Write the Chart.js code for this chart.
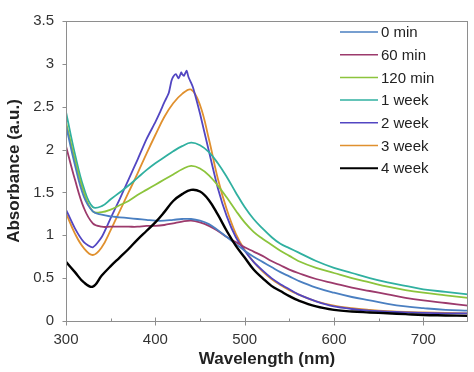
<!DOCTYPE html>
<html>
<head>
<meta charset="utf-8">
<script src="https://cdn.jsdelivr.net/npm/chart.js@4.4.0/dist/chart.umd.min.js"></script>
<style>
html, body { margin: 0; padding: 0; background: #fff; }
</style>
</head>
<body>
<canvas id="uvChart" width="474" height="372"></canvas>
<script>
// wavelength grid (nm) shared by all curves
var wavelength = [300,310,320,330,340,350,360,370,380,390,400,410,420,430,440,450,460,470,480,490,500,510,520,530,540,550,560,580,600,620,640,660,680,700,725,750];

var seriesNames = ['0 min', '60 min', '120 min', '1 week', '2 week', '3 week', '4 week'];
var seriesColors = ['#4a7fc1', '#9c3a6c', '#8cc43c', '#30b0a0', '#5246c2', '#e0902e', '#000000'];

var abs0min   = [2.28,1.82,1.45,1.28,1.24,1.22,1.21,1.20,1.19,1.18,1.17,1.17,1.18,1.19,1.19,1.17,1.13,1.06,0.98,0.90,0.82,0.75,0.69,0.63,0.57,0.52,0.47,0.39,0.33,0.28,0.24,0.20,0.17,0.15,0.13,0.12];
var abs60min  = [2.04,1.65,1.32,1.14,1.10,1.10,1.10,1.10,1.10,1.11,1.11,1.12,1.14,1.16,1.17,1.15,1.11,1.05,0.98,0.92,0.86,0.81,0.76,0.70,0.65,0.60,0.56,0.49,0.44,0.39,0.35,0.31,0.27,0.24,0.21,0.18];
var abs120min = [2.32,1.88,1.50,1.28,1.27,1.30,1.35,1.40,1.47,1.53,1.59,1.65,1.71,1.77,1.81,1.78,1.70,1.58,1.44,1.29,1.15,1.04,0.96,0.89,0.82,0.76,0.70,0.62,0.56,0.50,0.45,0.40,0.36,0.33,0.30,0.27];
var abs1week  = [2.44,1.95,1.55,1.33,1.34,1.42,1.50,1.58,1.67,1.76,1.84,1.91,1.98,2.04,2.08,2.05,1.97,1.84,1.68,1.50,1.33,1.19,1.08,0.98,0.90,0.85,0.80,0.70,0.62,0.56,0.50,0.45,0.41,0.37,0.34,0.31];
var abs2week  = [1.30,1.08,0.92,0.86,0.98,1.20,1.42,1.65,1.88,2.12,2.32,2.55,2.85,2.88,2.78,2.42,1.98,1.55,1.22,0.98,0.82,0.69,0.59,0.50,0.43,0.37,0.31,0.23,0.17,0.14,0.12,0.11,0.10,0.095,0.09,0.09];
var abs3week  = [1.26,1.02,0.85,0.77,0.86,1.06,1.28,1.50,1.72,1.95,2.17,2.38,2.54,2.65,2.70,2.52,2.12,1.66,1.30,1.02,0.83,0.69,0.58,0.49,0.42,0.36,0.31,0.23,0.18,0.15,0.13,0.115,0.105,0.10,0.095,0.09];
var abs4week  = [0.69,0.57,0.45,0.40,0.53,0.64,0.74,0.84,0.95,1.05,1.15,1.27,1.40,1.48,1.53,1.51,1.41,1.24,1.05,0.88,0.74,0.60,0.50,0.41,0.35,0.29,0.24,0.17,0.13,0.11,0.10,0.09,0.08,0.07,0.065,0.06];

// extra readings on the noisy 2 week peak
var peak2weekNm  = [405,415,418,423,426,429,432,435,437,442,445];
var peak2weekAbs = [2.43,2.66,2.80,2.88,2.83,2.90,2.86,2.92,2.85,2.73,2.62];

var xTickLabels = [300,400,500,600,700];
var xMinorTicks = [350,450,550,650];
var yTickStep = 0.5;

function toPoints(xs, ys) {
    var pts = [];
    for (var i = 0; i < xs.length; i++) {
        pts.push({x: xs[i], y: ys[i]});
    }
    return pts;
}

var allSeries = [abs0min, abs60min, abs120min, abs1week, abs2week, abs3week, abs4week];

var datasets = allSeries.map(function(vals, i) {
    var pts = toPoints(wavelength, vals);
    var isNoisy = seriesNames[i] === '2 week';
    if (isNoisy) {
        pts = pts.concat(toPoints(peak2weekNm, peak2weekAbs));
        pts.sort(function(a, b) { return a.x - b.x; });
    }
    return {
        label: seriesNames[i],
        data: pts,
        borderColor: seriesColors[i],
        borderWidth: i === 6 ? 2.4 : 1.8,
        pointRadius: 0,
        fill: false,
        tension: isNoisy ? 0.2 : 0.4,
        order: i === 6 ? 0 : 1
    };
});

var fontFam = '"Liberation Sans", Arial, sans-serif';

// legend drawn inside the plot area, top right
var legendInside = {
    id: 'legendInside',
    afterDatasetsDraw: function(chart) {
        var ctx = chart.ctx;
        ctx.save();
        ctx.font = '15px ' + fontFam;
        ctx.textBaseline = 'middle';
        ctx.textAlign = 'left';
        chart.data.datasets.forEach(function(ds, i) {
            var y = 32 + i * 22.7;
            ctx.strokeStyle = ds.borderColor;
            ctx.lineWidth = i === 6 ? 2 : 1.5;
            ctx.beginPath();
            ctx.moveTo(340, y);
            ctx.lineTo(378, y);
            ctx.stroke();
            ctx.fillStyle = '#222';
            ctx.fillText(ds.label, 381, y + 1);
        });
        ctx.restore();
    }
};

// frame round plot area + tick marks
var frameTicks = {
    id: 'frameTicks',
    afterDraw: function(chart) {
        var ctx = chart.ctx, a = chart.chartArea;
        var xs = chart.scales.x, ys = chart.scales.y;
        ctx.save();
        ctx.strokeStyle = '#8e8e8e';
        ctx.lineWidth = 1;
        var l = Math.round(a.left) + 0.5, r = Math.round(a.right) - 0.5;
        var t = Math.round(a.top) + 0.5, b = Math.round(a.bottom) + 0.5;
        ctx.strokeRect(l, t, r - l, b - t);
        ctx.beginPath();
        xTickLabels.forEach(function(v) {
            var px = Math.round(xs.getPixelForValue(v)) + 0.5;
            ctx.moveTo(px, b - 4);
            ctx.lineTo(px, b + 4);
        });
        xMinorTicks.forEach(function(v) {
            var px = Math.round(xs.getPixelForValue(v)) + 0.5;
            ctx.moveTo(px, b - 3);
            ctx.lineTo(px, b);
        });
        ys.ticks.forEach(function(tk) {
            var py = Math.round(ys.getPixelForValue(tk.value)) + 0.5;
            ctx.moveTo(l - 4, py);
            ctx.lineTo(l, py);
        });
        ctx.stroke();
        ctx.restore();
    }
};

var uvChart = new Chart(document.getElementById('uvChart'), {
    type: 'line',
    data: { datasets: datasets },
    options: {
        responsive: false,
        animation: false,
        devicePixelRatio: 1,
        layout: { padding: { top: 8, right: 6, left: 0, bottom: 0 } },
        plugins: {
            legend: { display: false },
            tooltip: { enabled: false }
        },
        scales: {
            x: {
                type: 'linear',
                min: 300,
                max: 750,
                afterBuildTicks: function(scale) {
                    scale.ticks = xTickLabels.map(function(v) { return {value: v}; });
                },
                afterFit: function(scale) { scale.height = 51; },
                grid: { display: false, drawTicks: false },
                border: { display: false },
                ticks: {
                    padding: 10,
                    maxRotation: 0,
                    color: '#333',
                    font: { family: fontFam, size: 15 }
                },
                title: {
                    display: true,
                    text: 'Wavelength (nm)',
                    color: '#222',
                    padding: { top: 0, bottom: 2 },
                    font: { family: fontFam, size: 17, weight: 'bold' }
                }
            },
            y: {
                min: 0,
                max: 3.5,
                afterFit: function(scale) { scale.width = 66; },
                grid: { display: false, drawTicks: false },
                border: { display: false },
                ticks: {
                    stepSize: yTickStep,
                    padding: 12,
                    color: '#333',
                    font: { family: fontFam, size: 15 },
                    callback: function(v) { return String(Math.round(v * 10) / 10); }
                },
                title: {
                    display: true,
                    text: 'Absorbance (a.u.)',
                    color: '#222',
                    padding: { top: 4, bottom: 0 },
                    font: { family: fontFam, size: 17, weight: 'bold' }
                }
            }
        }
    },
    plugins: [legendInside, frameTicks]
});
</script>
</body>
</html>
